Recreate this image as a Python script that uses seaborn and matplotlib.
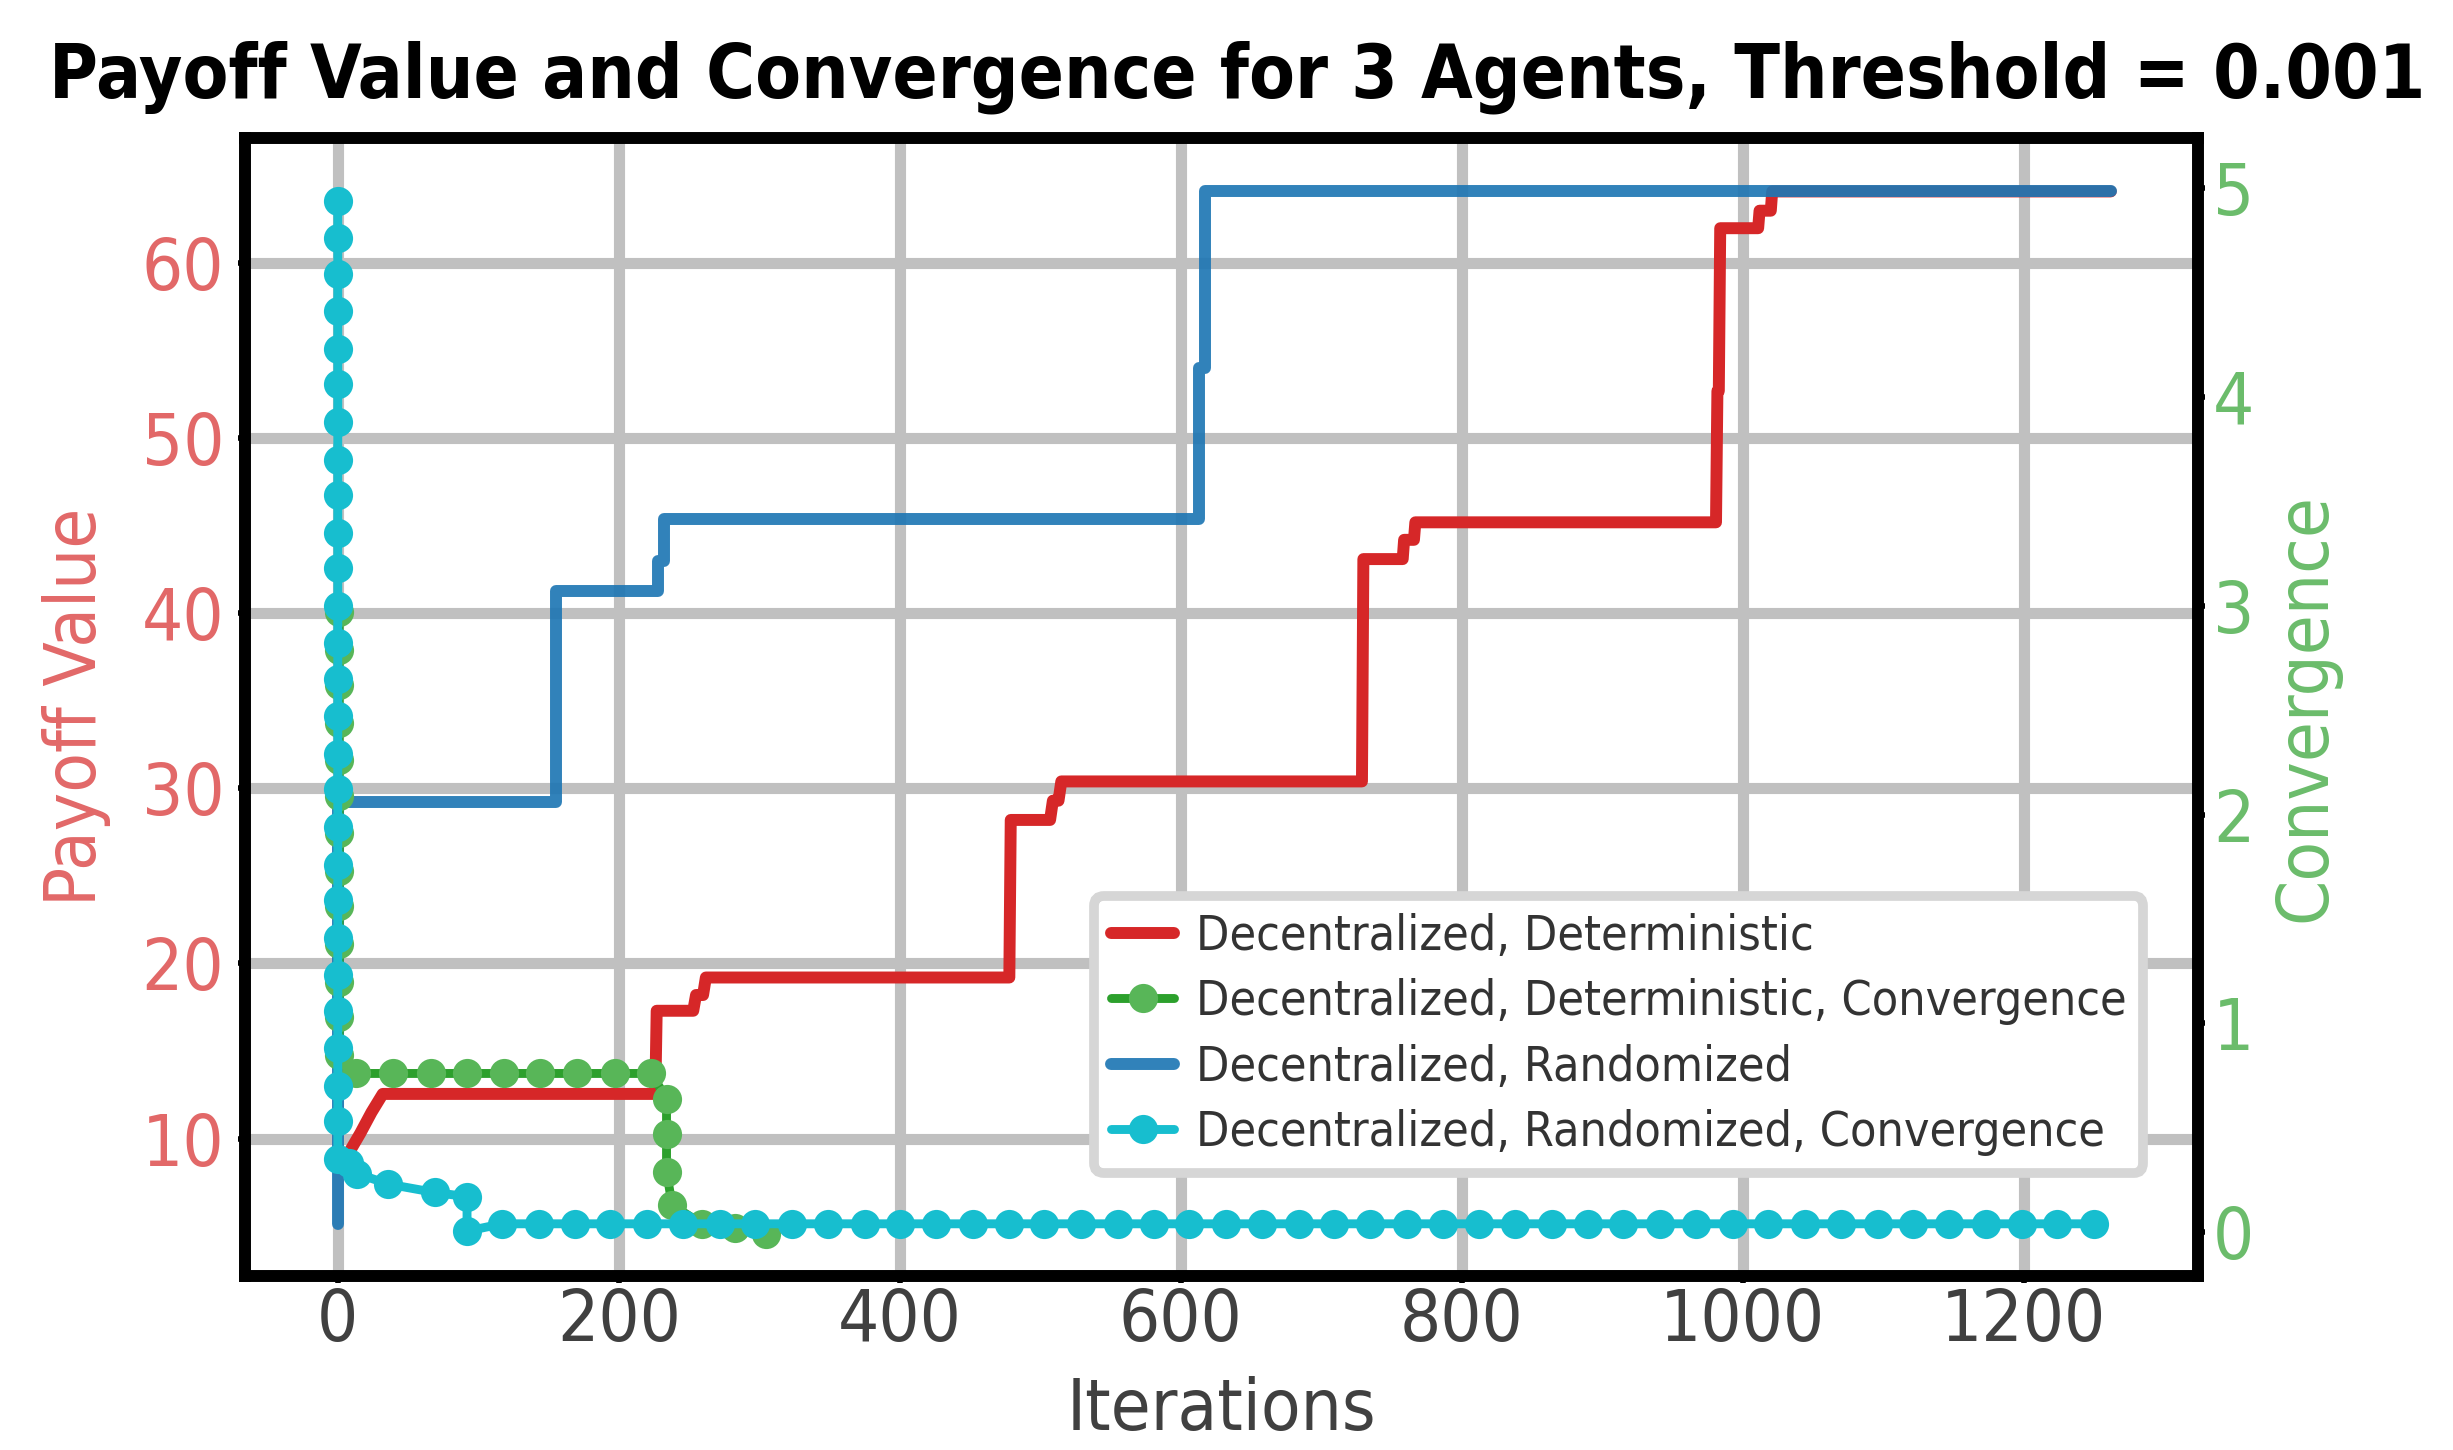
import matplotlib
matplotlib.use('Agg')
import matplotlib.pyplot as plt
import seaborn as sns

# 横軸(Iterations)と縦軸の値は図から読み取ったもの
# Payoff (左軸)
red_iter = [8, 16, 24, 32, 226, 227, 253, 255, 260, 262, 478, 479, 507, 509, 513, 515,
            729, 730, 758, 759, 766, 767, 981, 982, 983, 984, 1011, 1012, 1020, 1021, 1262]
red_val = [9.2, 10.3, 11.5, 12.55, 12.55, 17.3, 17.3, 18.2, 18.2, 19.2, 19.2, 28.2, 28.2,
           29.3, 29.3, 30.4, 30.4, 43.1, 43.1, 44.2, 44.2, 45.2, 45.2, 52.7, 52.7, 62.0,
           62.0, 63.0, 63.0, 64.1, 64.1]

blue_iter = [0, 0, 155, 155, 228, 228, 232, 232, 613, 613, 617, 617, 1262]
blue_val = [5.1, 29.2, 29.2, 41.3, 41.3, 43.0, 43.0, 45.4, 45.4, 54.0, 54.0, 64.1, 64.1]

# Convergence (右軸)
green_iter = [1, 1, 1, 1, 1, 1, 1, 1, 1, 1, 1, 1, 1,
              13, 39, 66, 92, 118, 144, 170, 197, 223,
              234, 234, 234, 238, 259, 283, 305]
green_val = [2.97, 2.79, 2.62, 2.44, 2.26, 2.09, 1.91, 1.73, 1.56, 1.38, 1.20, 1.03, 0.85,
             0.76, 0.76, 0.76, 0.76, 0.76, 0.76, 0.76, 0.76, 0.76,
             0.64, 0.47, 0.29, 0.13, 0.04, 0.02, -0.01]

cyan_iter = [0, 0, 0, 0, 0, 0, 0, 0, 0,
             0, 0, 0, 0, 0, 0, 0, 0, 0,
             0, 0, 0, 0, 0, 0, 0, 0, 0,
             8, 14, 36, 69, 92, 92,
             117, 143, 169, 194, 220, 246, 272, 297, 323, 349, 375, 400, 426, 452, 478,
             503, 529, 555, 581, 606, 632, 658, 684, 709, 735, 761, 787, 812, 838, 864,
             890, 915, 941, 967, 993, 1018, 1044, 1070, 1096, 1121, 1147, 1173, 1199, 1224, 1250]
cyan_val = [4.94, 4.76, 4.59, 4.41, 4.23, 4.06, 3.88, 3.70, 3.53,
            3.35, 3.18, 3.00, 2.82, 2.65, 2.47, 2.29, 2.12, 1.94,
            1.76, 1.59, 1.41, 1.23, 1.06, 0.88, 0.70, 0.53, 0.35,
            0.33, 0.28, 0.23, 0.19, 0.17, 0.005,
            0.04, 0.04, 0.04, 0.04, 0.04, 0.04, 0.04, 0.04, 0.04, 0.04, 0.04, 0.04, 0.04, 0.04, 0.04,
            0.04, 0.04, 0.04, 0.04, 0.04, 0.04, 0.04, 0.04, 0.04, 0.04, 0.04, 0.04, 0.04, 0.04, 0.04,
            0.04, 0.04, 0.04, 0.04, 0.04, 0.04, 0.04, 0.04, 0.04, 0.04, 0.04, 0.04, 0.04, 0.04, 0.04]

labels = ['Decentralized, Deterministic',
          'Decentralized, Deterministic, Convergence',
          'Decentralized, Randomized',
          'Decentralized, Randomized, Convergence']
title = 'Payoff Value and Convergence for 3 Agents, Threshold = 0.001'

sns.set_theme(style='whitegrid')
plt.rcParams['font.family'] = ['DejaVu Sans']
plt.rcParams['font.stretch'] = 'condensed'   # 元図は横に詰まった文字

fig, ax = plt.subplots(figsize=(12.265, 7.25), dpi=200)
fig.subplots_adjust(left=0.0999, right=0.896, bottom=0.12, top=0.9048)
ax2 = ax.twinx()

# Payoff
sns.lineplot(x=red_iter, y=red_val, ax=ax, color='#d62728', lw=4.3,
             estimator=None, sort=False, label=labels[0])
sns.lineplot(x=blue_iter, y=blue_val, ax=ax, color='#1f77b4', lw=4.3, alpha=0.92,
             estimator=None, sort=False, label=labels[2])
# Convergence
sns.lineplot(x=green_iter, y=green_val, ax=ax2, color='#2ca02c', lw=3.2, marker='o',
             markersize=10.5, markerfacecolor='#58b658', markeredgecolor='#58b658',
             markeredgewidth=0, estimator=None, sort=False, label=labels[1])
sns.lineplot(x=cyan_iter, y=cyan_val, ax=ax2, color='#17becf', lw=3.2, marker='o',
             markersize=10.5, markerfacecolor='#17becf', markeredgecolor='#17becf',
             markeredgewidth=0, estimator=None, sort=False, label=labels[3])

ax.set_xlim(-66, 1324)
ax.set_ylim(2.15, 67.15)
ax2.set_ylim(-0.21, 5.24)
ax.set_xticks([0, 200, 400, 600, 800, 1000, 1200])
ax.set_yticks([10, 20, 30, 40, 50, 60])
ax2.set_yticks([0, 1, 2, 3, 4, 5])

# グリッド
ax.grid(True, color='#c0c0c0', lw=4)
ax2.grid(False)

for a in (ax, ax2):
    for s in a.spines.values():
        s.set_color('black')
        s.set_linewidth(4.2)

ax.tick_params(axis='x', length=2.5, width=2, color='black', pad=1.5,
               labelsize=26, labelcolor='#404040', bottom=True)
ax.tick_params(axis='y', length=2.5, width=2, color='black', pad=5,
               labelsize=26, labelcolor='#e26868', left=True)
ax2.tick_params(axis='y', length=2.5, width=2, color='black', pad=3,
                labelsize=26, labelcolor='#6bbc6b', right=True)

ax.set_xlabel('Iterations', fontsize=26, color='#404040', labelpad=7)
ax.set_ylabel('Payoff Value', fontsize=26, color='#e26868', labelpad=11)
ax2.set_ylabel('Convergence', fontsize=26, color='#6bbc6b', labelpad=6)

# 凡例(両軸まとめて)
ax.get_legend().remove()
ax2.get_legend().remove()
h1, _ = ax.get_legend_handles_labels()
h2, _ = ax2.get_legend_handles_labels()
leg = ax2.legend([h1[0], h2[0], h1[1], h2[1]], labels, loc='lower right',
                 bbox_to_anchor=(0.972, 0.0905), borderaxespad=0, fontsize=17.4,
                 frameon=True, framealpha=1, edgecolor='#d6d6d6', fancybox=True,
                 labelcolor='#333333', handlelength=1.3, handletextpad=0.45,
                 labelspacing=0.38, borderpad=0.35)
leg.get_frame().set_linewidth(3.5)

# タイトル(幅を合わせる)
t = fig.text(0.5045, 1 - 97 / 1450, title, ha='center', va='baseline',
             fontsize=30, fontweight='bold', color='black')
fig.canvas.draw()
w = t.get_window_extent().width
t.set_fontsize(min(34, 30 * 2378 / w))

fig.savefig('out.png', dpi=200)
